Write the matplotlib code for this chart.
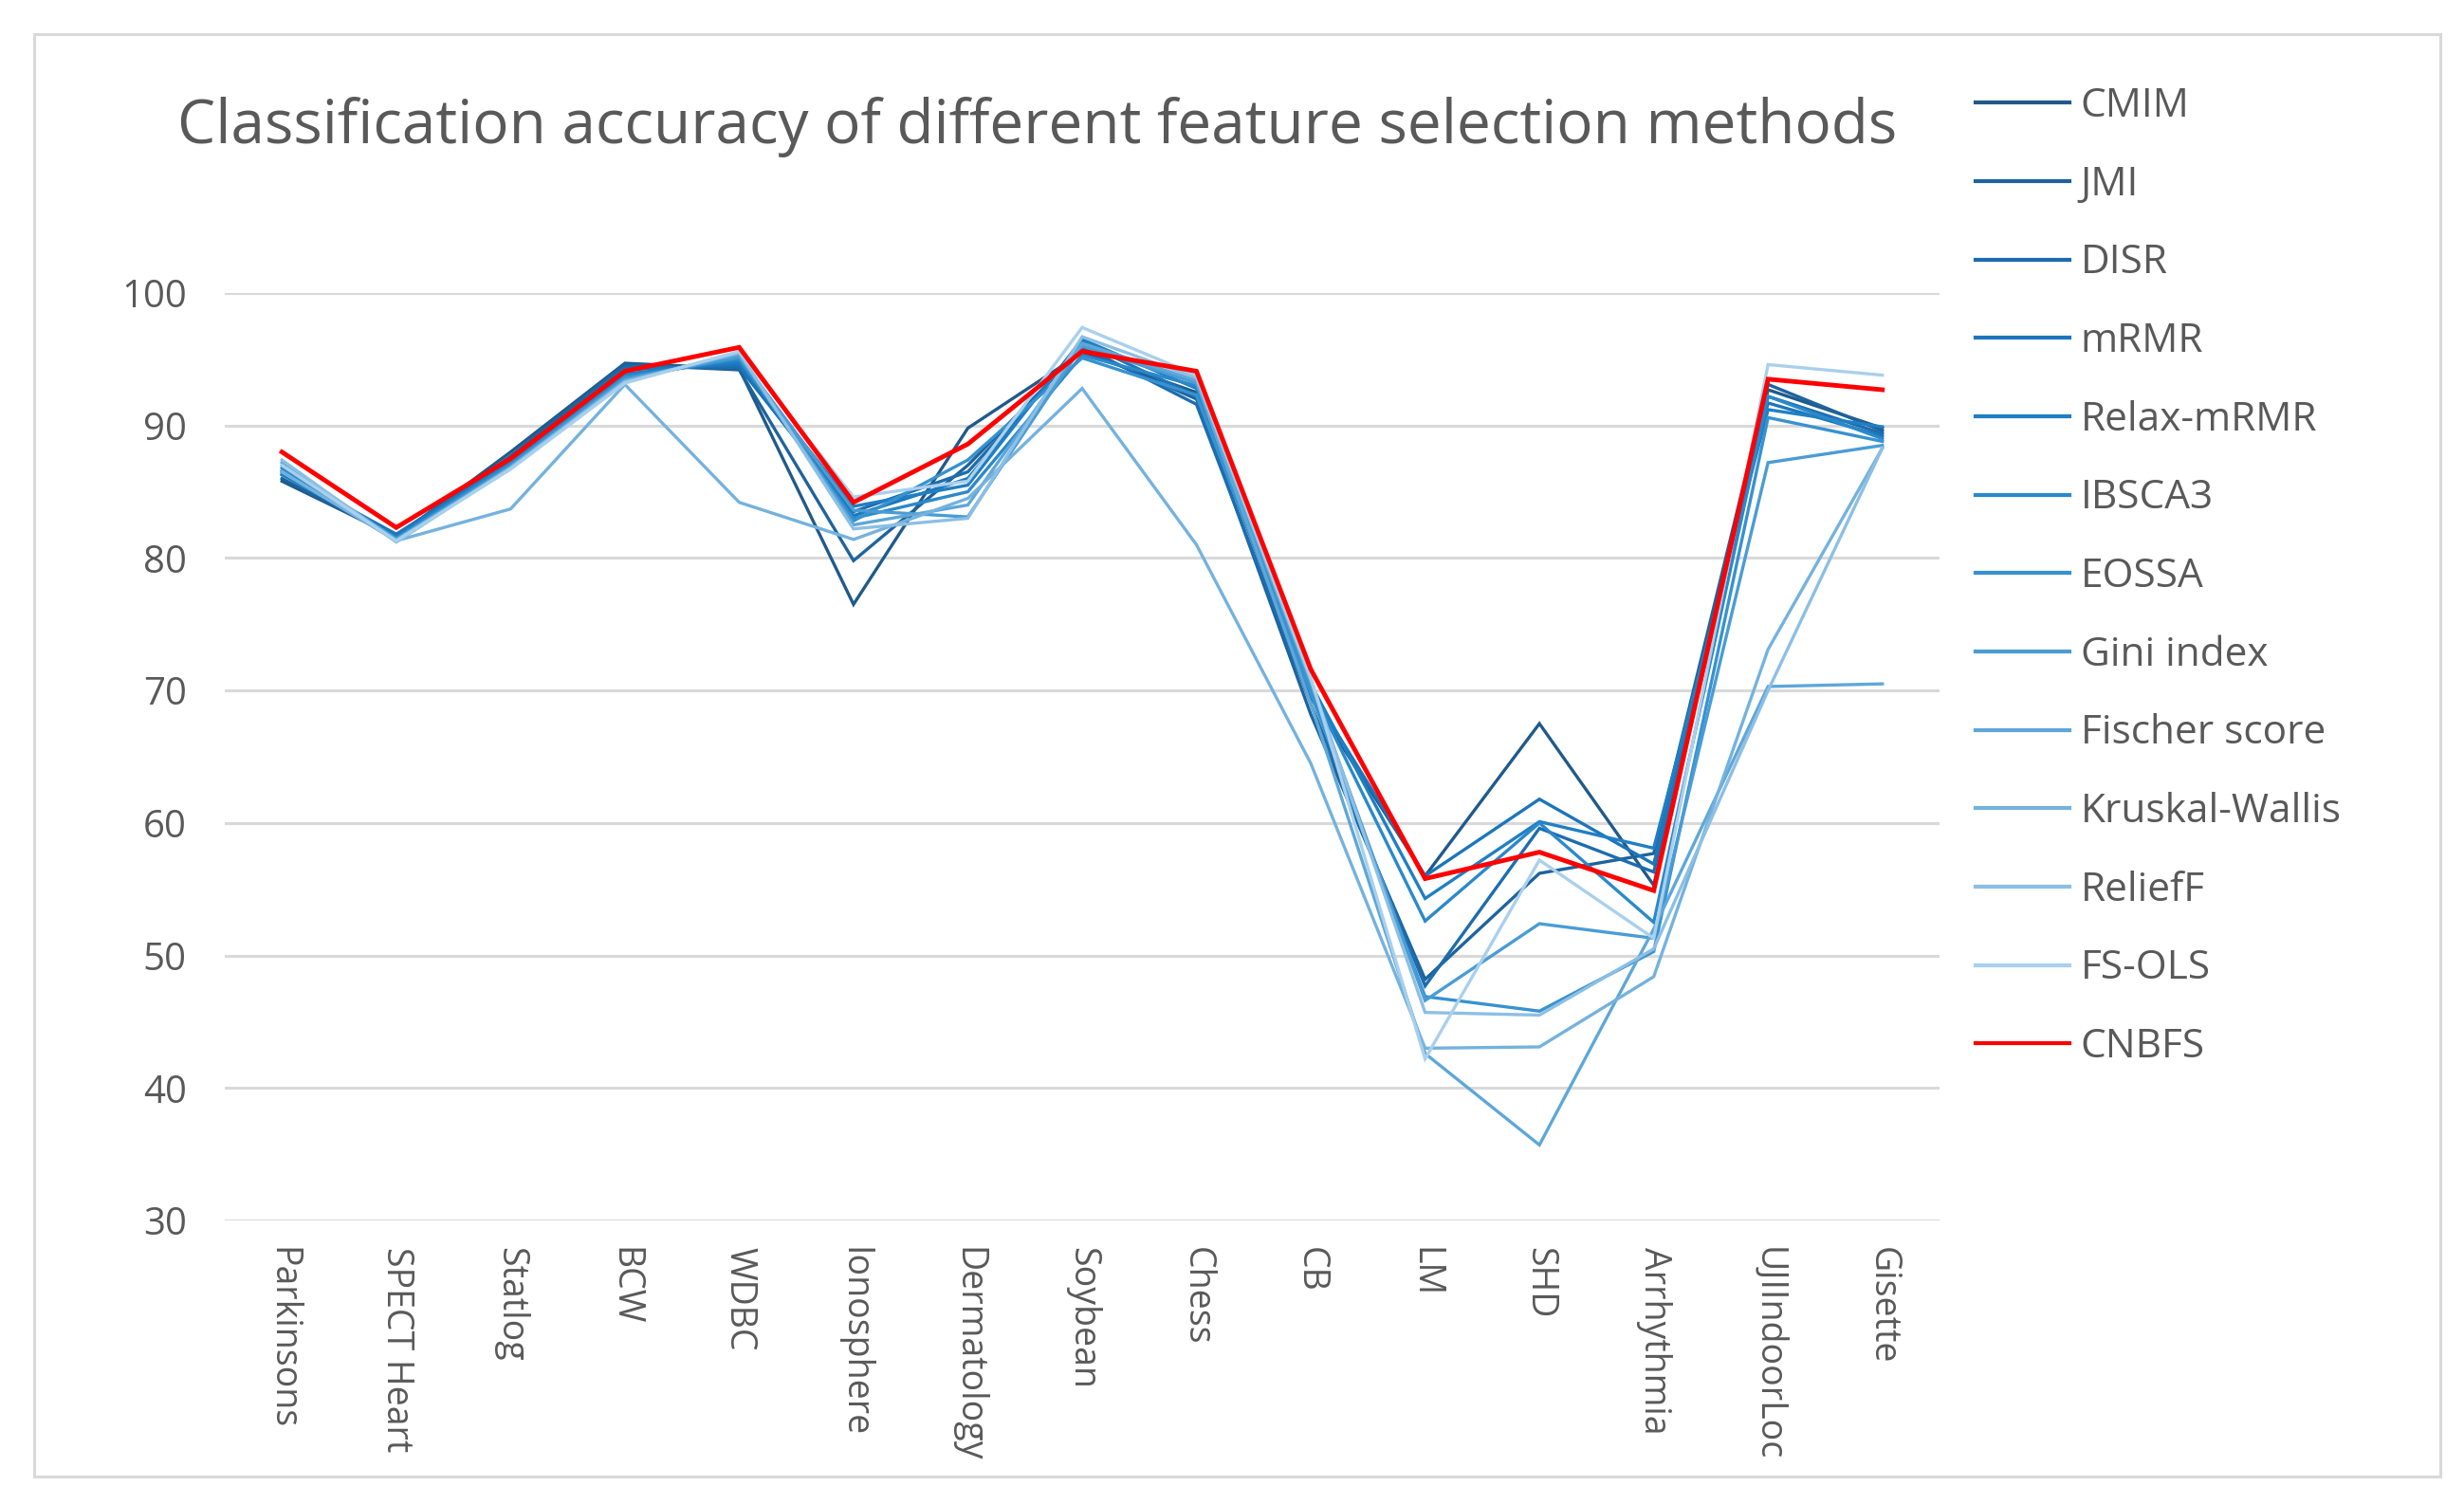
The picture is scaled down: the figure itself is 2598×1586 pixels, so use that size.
import matplotlib
matplotlib.use("Agg")
import matplotlib.pyplot as plt
from matplotlib.patches import Rectangle

datasets = ["Parkinsons", "SPECT Heart", "Statlog", "BCW", "WDBC", "Ionosphere",
            "Dermatology", "Soybean", "Chess", "CB", "LM", "SHD", "Arrhythmia",
            "UJIIndoorLoc", "Gisette"]

CMIM        = [85.8, 81.6, 88.0, 94.7, 94.3, 76.5, 89.8, 95.5, 92.5, 69.5, 56.0, 67.5, 55.3, 92.7, 89.8]
JMI         = [86.0, 81.5, 87.7, 94.6, 94.2, 79.8, 87.0, 95.8, 92.0, 68.2, 48.2, 56.2, 57.7, 93.1, 89.6]
DISR        = [86.3, 81.7, 87.4, 94.4, 94.4, 83.5, 86.5, 96.0, 91.6, 69.0, 47.7, 59.6, 56.3, 92.2, 89.4]
mRMR        = [86.5, 81.8, 87.3, 94.2, 94.6, 83.2, 86.0, 96.3, 92.2, 70.0, 56.0, 61.8, 56.9, 91.7, 89.2]
Relax_mRMR  = [86.3, 81.6, 87.2, 93.9, 94.8, 83.9, 85.5, 96.5, 92.8, 70.5, 54.3, 60.1, 58.1, 91.2, 89.9]
IBSCA3      = [86.8, 81.5, 87.1, 93.7, 95.0, 83.0, 85.0, 95.3, 93.0, 70.2, 52.6, 60.0, 52.5, 92.2, 89.0]
EOSSA       = [86.6, 81.4, 87.0, 93.6, 95.1, 82.8, 87.4, 95.1, 92.3, 69.8, 46.9, 45.8, 50.3, 90.6, 88.8]
Gini_index  = [87.0, 81.3, 86.9, 93.5, 95.2, 83.6, 83.1, 96.0, 93.2, 70.5, 46.6, 52.4, 51.3, 87.2, 88.5]
Fischer     = [87.2, 81.4, 86.8, 93.4, 95.4, 82.5, 84.0, 96.2, 93.4, 69.0, 42.6, 35.7, 52.0, 70.3, 70.5]
Kruskal     = [86.5, 81.3, 83.7, 93.1, 84.2, 81.4, 84.5, 92.8, 81.0, 64.5, 43.0, 43.1, 48.4, 73.1, 88.3]
ReliefF     = [87.4, 81.2, 86.8, 93.3, 95.5, 82.2, 83.0, 96.7, 93.6, 70.8, 45.7, 45.5, 50.5, 70.0, 88.3]
FS_OLS      = [87.0, 81.3, 86.7, 93.2, 95.6, 84.6, 85.8, 97.4, 93.8, 71.0, 42.2, 57.2, 51.3, 94.6, 93.8]
CNBFS       = [88.0, 82.3, 87.5, 94.1, 95.9, 84.2, 88.6, 95.6, 94.1, 71.6, 55.8, 57.8, 54.9, 93.5, 92.7]

method_names = ["CMIM", "JMI", "DISR", "mRMR", "Relax-mRMR", "IBSCA3", "EOSSA",
                "Gini index", "Fischer score", "Kruskal-Wallis", "ReliefF", "FS-OLS", "CNBFS"]
series = [CMIM, JMI, DISR, mRMR, Relax_mRMR, IBSCA3, EOSSA, Gini_index, Fischer,
          Kruskal, ReliefF, FS_OLS, CNBFS]
y_ticks = [30, 40, 50, 60, 70, 80, 90, 100]

colors = ["#1F5A8A", "#1E639E", "#1C6DAE", "#1B76BB", "#1F7FC4", "#2A89CB",
          "#3792D0", "#4A9CD4", "#5EA7D9", "#74B2DE", "#8CBFE4", "#A9D0EC", "#FF0000"]

plt.rcParams['font.family'] = ['Open Sans', 'DejaVu Sans']
txt = "#595959"

W, H = 2598, 1586
fig = plt.figure(figsize=(W / 100, H / 100), dpi=100)
fig.patch.set_facecolor("white")
fig.add_artist(Rectangle((36 / W, 1 - 1557 / H), (2573 - 36) / W, (1557 - 36) / H,
                         transform=fig.transFigure, fill=False, edgecolor="#D9D9D9", lw=2.2))

ax = fig.add_axes([237 / W, 1 - 1287 / H, (2045 - 237) / W, (1287 - 309) / H])
x = list(range(len(datasets)))
handles = []
for i, (name, vals) in enumerate(zip(method_names, series)):
    lw = 3.5 if name == "CNBFS" else 2.4
    h, = ax.plot(x, vals, color=colors[i], lw=lw, label=name, zorder=3 + i,
                 solid_joinstyle="miter")
    handles.append(h)

ax.set_xlim(-0.5, len(datasets) - 0.5)
ax.set_ylim(30, 100)
ax.set_yticks(y_ticks)
ax.set_xticks(x)
ax.set_xticklabels(datasets, rotation=270, ha="center", va="top")
ax.grid(axis="y", color="#D9D9D9", lw=2.2, zorder=0)
ax.set_axisbelow(True)
for s in ax.spines.values():
    s.set_visible(False)
ax.tick_params(axis="both", length=0, colors=txt, pad=0)
ax.tick_params(axis="x", labelsize=27, pad=20)
ax.tick_params(axis="y", labelsize=29, pad=29)

fig.text(1094 / W, 1 - 134 / H, "Classification accuracy of different feature selection methods",
         ha="center", va="center", fontsize=46, color=txt)

leg = fig.legend(handles=handles, labels=method_names, loc="upper left",
                 bbox_to_anchor=(2045 / W, 1 - 53 / H), frameon=False,
                 fontsize=30.5, handlelength=2.33, handletextpad=0.28,
                 labelspacing=0.96, labelcolor=txt)
for lh in leg.get_lines():
    lh.set_linewidth(3.0)

fig.savefig("out.png", dpi=100, facecolor="white")
